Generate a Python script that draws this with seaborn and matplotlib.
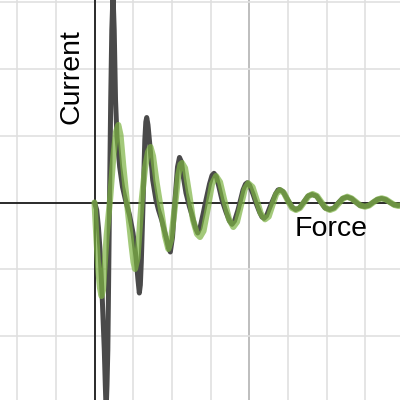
import matplotlib
matplotlib.use("Agg")
import matplotlib.pyplot as plt
from matplotlib.ticker import MultipleLocator, NullFormatter
import seaborn as sns
import pandas as pd

# ---- data (grid units) ----
dark_x = [0.000, 0.057, 0.103, 0.142, 0.202, 0.253, 0.279, 0.300, 0.323, 0.344,
          0.359, 0.388, 0.419, 0.447, 0.478, 0.509, 0.543, 0.581, 0.651, 0.724,
          0.801, 0.904, 0.995, 1.072, 1.124, 1.158, 1.184, 1.209, 1.253, 1.300,
          1.326, 1.349, 1.382, 1.434, 1.504, 1.589, 1.654, 1.736, 1.866, 1.912,
          1.959, 2.016, 2.080, 2.145, 2.196, 2.248, 2.300, 2.364, 2.442, 2.532,
          2.610, 2.667, 2.726, 2.817, 2.881, 2.972, 3.036, 3.088, 3.152, 3.217,
          3.295, 3.398, 3.488, 3.553, 3.618, 3.708, 3.760, 3.837, 3.902, 3.948,
          4.005, 4.096, 4.173, 4.264, 4.328, 4.380, 4.444, 4.535, 4.600, 4.677,
          4.742, 4.780, 4.871, 4.987, 5.103, 5.194, 5.297, 5.406, 5.517, 5.620,
          5.736, 5.845, 5.956, 6.072, 6.189, 6.297, 6.408, 6.525, 6.641, 6.749,
          6.860, 6.977, 7.085, 7.196, 7.305, 7.416, 7.522, 7.628, 7.737, 7.842,
          7.946]
dark_y = [0.000, -0.112, -0.382, -0.712, -1.462, -2.211, -2.736, -3.111, -2.736, -2.211,
          -1.462, 0.037, 1.537, 2.586, 3.126, 2.586, 1.537, 0.982, 0.532, 0.232,
          0.037, -0.187, -0.457, -0.817, -1.162, -1.357, -1.237, -0.892, -0.037, 0.937,
          1.207, 1.274, 1.162, 0.837, 0.337, 0.037, -0.112, -0.262, -0.562, -0.682,
          -0.742, -0.517, 0.037, 0.532, 0.675, 0.607, 0.367, 0.142, -0.037, -0.217,
          -0.382, -0.457, -0.382, -0.142, 0.037, 0.277, 0.405, 0.438, 0.382, 0.232,
          0.037, -0.142, -0.277, -0.327, -0.277, -0.112, 0.007, 0.187, 0.277, 0.297,
          0.262, 0.127, -0.007, -0.142, -0.217, -0.237, -0.202, -0.067, 0.022, 0.127,
          0.187, 0.195, 0.165, 0.045, -0.067, -0.105, -0.082, 0.007, 0.097, 0.120,
          0.097, 0.007, -0.082, -0.105, -0.082, -0.007, 0.060, 0.082, 0.060, 0.007,
          -0.045, -0.060, -0.045, 0.003, 0.045, 0.060, 0.045, 0.003, -0.034, -0.045,
          -0.030]

green_x = [0.000, 0.052, 0.103, 0.142, 0.181, 0.220, 0.253, 0.315, 0.401, 0.486,
           0.556, 0.615, 0.672, 0.744, 0.832, 0.956, 1.008, 1.047, 1.111, 1.220,
           1.305, 1.382, 1.447, 1.512, 1.607, 1.736, 1.822, 1.907, 1.977, 2.080,
           2.165, 2.222, 2.261, 2.339, 2.442, 2.545, 2.649, 2.726, 2.817, 2.933,
           3.036, 3.140, 3.243, 3.359, 3.475, 3.587, 3.682, 3.786, 3.884, 3.974,
           4.083, 4.191, 4.297, 4.406, 4.501, 4.599, 4.695, 4.793, 4.897, 5.000,
           5.103, 5.207, 5.310, 5.421, 5.530, 5.638, 5.749, 5.860, 5.974, 6.085,
           6.196, 6.310, 6.421, 6.532, 6.646, 6.760, 6.873, 6.990, 7.098, 7.207,
           7.313, 7.421, 7.532, 7.641, 7.750, 7.858, 7.964]
green_y = [0.000, -0.562, -1.042, -1.282, -1.402, -1.312, -1.012, -0.487, 0.037, 0.682,
           1.057, 1.162, 1.012, 0.547, 0.037, -0.637, -0.892, -0.997, -0.832, 0.037,
           0.517, 0.757, 0.832, 0.697, 0.292, -0.172, -0.502, -0.697, -0.562, -0.052,
           0.412, 0.570, 0.592, 0.517, 0.142, -0.262, -0.472, -0.517, -0.427, -0.067,
           0.277, 0.397, 0.307, 0.022, -0.247, -0.367, -0.292, -0.037, 0.202, 0.288,
           0.232, 0.037, -0.165, -0.252, -0.210, -0.037, 0.127, 0.187, 0.142, 0.022,
           -0.082, -0.112, -0.082, 0.007, 0.097, 0.127, 0.097, 0.007, -0.082, -0.112,
           -0.087, -0.015, 0.060, 0.087, 0.060, 0.007, -0.045, -0.063, -0.045, 0.003,
           0.045, 0.063, 0.045, 0.003, -0.037, -0.052, -0.037]

x_label = "Force"
y_label = "Current"

x_limits = (-2.442, 7.894)
y_limits = (-2.961, 3.036)

dark_df = pd.DataFrame({"x": dark_x, "y": dark_y})
green_df = pd.DataFrame({"x": green_x, "y": green_y})

sns.set_theme(style="white")
plt.rcParams["font.family"] = ["Liberation Sans", "DejaVu Sans"]

fig = plt.figure(figsize=(4, 4), dpi=100)
ax = fig.add_axes([0, 0, 1, 1])

ax.set_xlim(*x_limits)
ax.set_ylim(*y_limits)

ax.xaxis.set_major_locator(MultipleLocator(4))
ax.xaxis.set_minor_locator(MultipleLocator(1))
ax.yaxis.set_major_locator(MultipleLocator(4))
ax.yaxis.set_minor_locator(MultipleLocator(1))
for axis in (ax.xaxis, ax.yaxis):
    axis.set_major_formatter(NullFormatter())
    axis.set_minor_formatter(NullFormatter())
ax.tick_params(which="both", length=0)
ax.grid(which="minor", color="#e0e0e0", linewidth=1.2)
ax.grid(which="major", color="#b3b3b3", linewidth=1.2)
ax.set_axisbelow(True)
for s in ax.spines.values():
    s.set_visible(False)

ax.axhline(0, color="#2b2b2b", linewidth=1.4, zorder=1.5)
ax.axvline(0, color="#2b2b2b", linewidth=1.4, zorder=1.5)

sns.lineplot(data=dark_df, x="x", y="y", ax=ax, color="#4a4a4a", linewidth=3.6,
             estimator=None, sort=False, solid_capstyle="round",
             solid_joinstyle="round", zorder=3)
sns.lineplot(data=green_df, x="x", y="y", ax=ax, color="#7cb342", alpha=0.7,
             linewidth=4.4, estimator=None, sort=False, solid_capstyle="round",
             solid_joinstyle="round", zorder=4)

ax.set_xlabel("")
ax.set_ylabel("")

ax.text(0.829, 0.409, x_label, transform=ax.transAxes, fontsize=20.5,
        ha="center", va="baseline", color="black", zorder=5)
ax.text(0.1975, 0.809, y_label, transform=ax.transAxes, fontsize=20.5,
        rotation=90, rotation_mode="anchor", ha="center", va="baseline",
        color="black", zorder=5)

fig.savefig("out.png", dpi=100)
